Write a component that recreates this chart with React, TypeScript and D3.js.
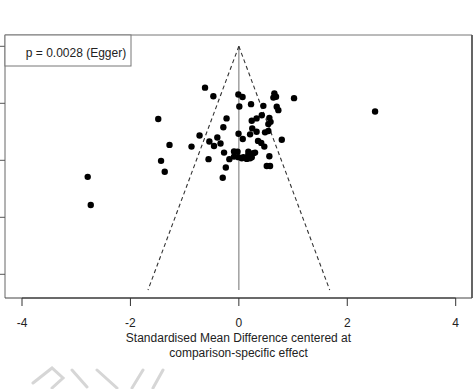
import React from "react";
import * as d3 from "d3";

// Effect sizes (centered SMD) and standard errors
const effects: number[] = [
  -0.624, -0.47, -0.009, 0.068, 0.009, -1.487, -0.227, -0.286, -0.725, -0.544,
  -0.397, -0.338, -0.458, -1.279, -0.873, -0.006, 0.072, -0.273, -0.089, -0.024,
  -1.435, -0.559, -0.175, -0.089, -0.009, 0.083, 0.146, -1.367, -0.24, -0.297,
  -2.788, -2.732, 0.225, 0.452, 0.655, 0.686, 0.637, 1.018, 2.513, 0.699,
  0.729, 0.423, 0.327, 0.238, 0.563, 0.585, 0.544, 0.247, 0.207, 0.327,
  0.483, 0.544, 0.354, 0.413, 0.47, 0.792, 0.175, 0.268, 0.299, 0.054,
  0.146, 0.238, 0.563, 0.515, 0.576, 0.207, 0.175,
];
const standardErrors: number[] = [
  0.145, 0.175, 0.169, 0.178, 0.211, 0.255, 0.253, 0.284, 0.313, 0.334,
  0.32, 0.341, 0.35, 0.346, 0.352, 0.307, 0.325, 0.373, 0.369, 0.37,
  0.402, 0.396, 0.396, 0.387, 0.389, 0.389, 0.391, 0.44, 0.425, 0.461,
  0.458, 0.557, 0.203, 0.209, 0.165, 0.177, 0.18, 0.182, 0.229, 0.212,
  0.224, 0.242, 0.253, 0.261, 0.251, 0.265, 0.273, 0.288, 0.309, 0.3,
  0.302, 0.297, 0.332, 0.339, 0.352, 0.328, 0.37, 0.375, 0.373, 0.393,
  0.395, 0.389, 0.386, 0.42, 0.42, 0.393, 0.381,
];
const xTicks: number[] = [-4, -2, 0, 2, 4];
const yTicks: number[] = [0, 0.2, 0.4, 0.6, 0.8];
const funnelMaxSE = 0.855;
const eggerLabel = "p = 0.0028 (Egger)";
const xLabelLines: string[] = ["Standardised Mean Difference centered at", "comparison-specific effect"];

const W = 474;
const H = 389;
const box = { left: 5, right: 472, top: 35, bottom: 298 };

export default function App() {
  const x = d3.scaleLinear().domain([-4, 4]).range([22, 455.7]);
  const y = d3.scaleLinear().domain([0, 0.8]).range([46.3, 274.3]);
  const font = "'Liberation Sans', Arial, sans-serif";

  const funnel = d3.line<[number, number]>()
    .x((d) => x(d[0]))
    .y((d) => y(d[1]));
  const leftPts: [number, number][] = [[0, 0], [-1.96 * funnelMaxSE, funnelMaxSE]];
  const rightPts: [number, number][] = [[0, 0], [1.96 * funnelMaxSE, funnelMaxSE]];

  const wm = "#d6d6d6";
  return (
    <div style={{ position: "absolute", left: 0, top: 0, width: W, height: H, background: "#fff" }}>
      <svg width={W} height={H} style={{ display: "block" }}>
        <rect width={W} height={H} fill="#fff" />
        {/* plot box */}
        <line x1={box.left} x2={box.right} y1={box.top} y2={box.top} stroke="#777" strokeWidth={1} />
        <line x1={box.left} x2={box.left} y1={box.top} y2={box.bottom} stroke="#666" strokeWidth={1} />
        <line x1={box.right} x2={box.right} y1={box.top} y2={box.bottom} stroke="#555" strokeWidth={1.8} />
        <line x1={box.left} x2={box.right} y1={box.bottom} y2={box.bottom} stroke="#444" strokeWidth={1} />

        {/* y ticks (labels outside visible area) */}
        {yTicks.map((t) => (
          <line key={"yt" + t} x1={0} x2={box.left} y1={y(t)} y2={y(t)} stroke="#555" strokeWidth={1} />
        ))}

        {/* x axis */}
        <line x1={x(-4)} x2={x(4)} y1={box.bottom} y2={box.bottom} stroke="#333" strokeWidth={1} />
        {xTicks.map((t) => (
          <g key={"xt" + t}>
            <line x1={x(t)} x2={x(t)} y1={box.bottom} y2={box.bottom + 8} stroke="#333" strokeWidth={1} />
            <text x={x(t)} y={327} textAnchor="middle" fontFamily={font} fontSize={12} fill="#222">
              {t < 0 ? "-" + Math.abs(t) : String(t)}
            </text>
          </g>
        ))}
        {xLabelLines.map((s, i) => (
          <text key={s} x={238.5} y={342 + i * 15} textAnchor="middle" fontFamily={font} fontSize={12} fill="#222">
            {s}
          </text>
        ))}

        {/* funnel */}
        <line x1={x(0)} x2={x(0)} y1={y(0)} y2={y(funnelMaxSE)} stroke="#888" strokeWidth={1.2} />
        <path d={funnel(leftPts) || ""} fill="none" stroke="#333" strokeWidth={1.1} strokeDasharray="4,3" />
        <path d={funnel(rightPts) || ""} fill="none" stroke="#333" strokeWidth={1.1} strokeDasharray="4,3" />

        {/* points */}
        {effects.map((e, i) => (
          <circle key={"p" + i} cx={x(e)} cy={y(standardErrors[i])} r={3.2} fill="#000" />
        ))}

        {/* legend box */}
        <rect x={box.left} y={box.top} width={126} height={31} fill="#fff" stroke="#777" strokeWidth={1} />
        <text x={76} y={57} textAnchor="middle" fontFamily={font} fontSize={12} fill="#222">
          {eggerLabel}
        </text>

        {/* watermark fragments */}
        <g stroke={wm} strokeWidth={3} fill="none" strokeLinecap="round">
          <polyline points="33,383 52,368 63,378 52,388" />
          <line x1={72} y1={370} x2={87} y2={387} />
          <line x1={97} y1={370} x2={117} y2={388} />
          <line x1={143} y1={370} x2={132} y2={388} />
          <line x1={163} y1={370} x2={153} y2={388} />
        </g>
      </svg>
    </div>
  );
}
